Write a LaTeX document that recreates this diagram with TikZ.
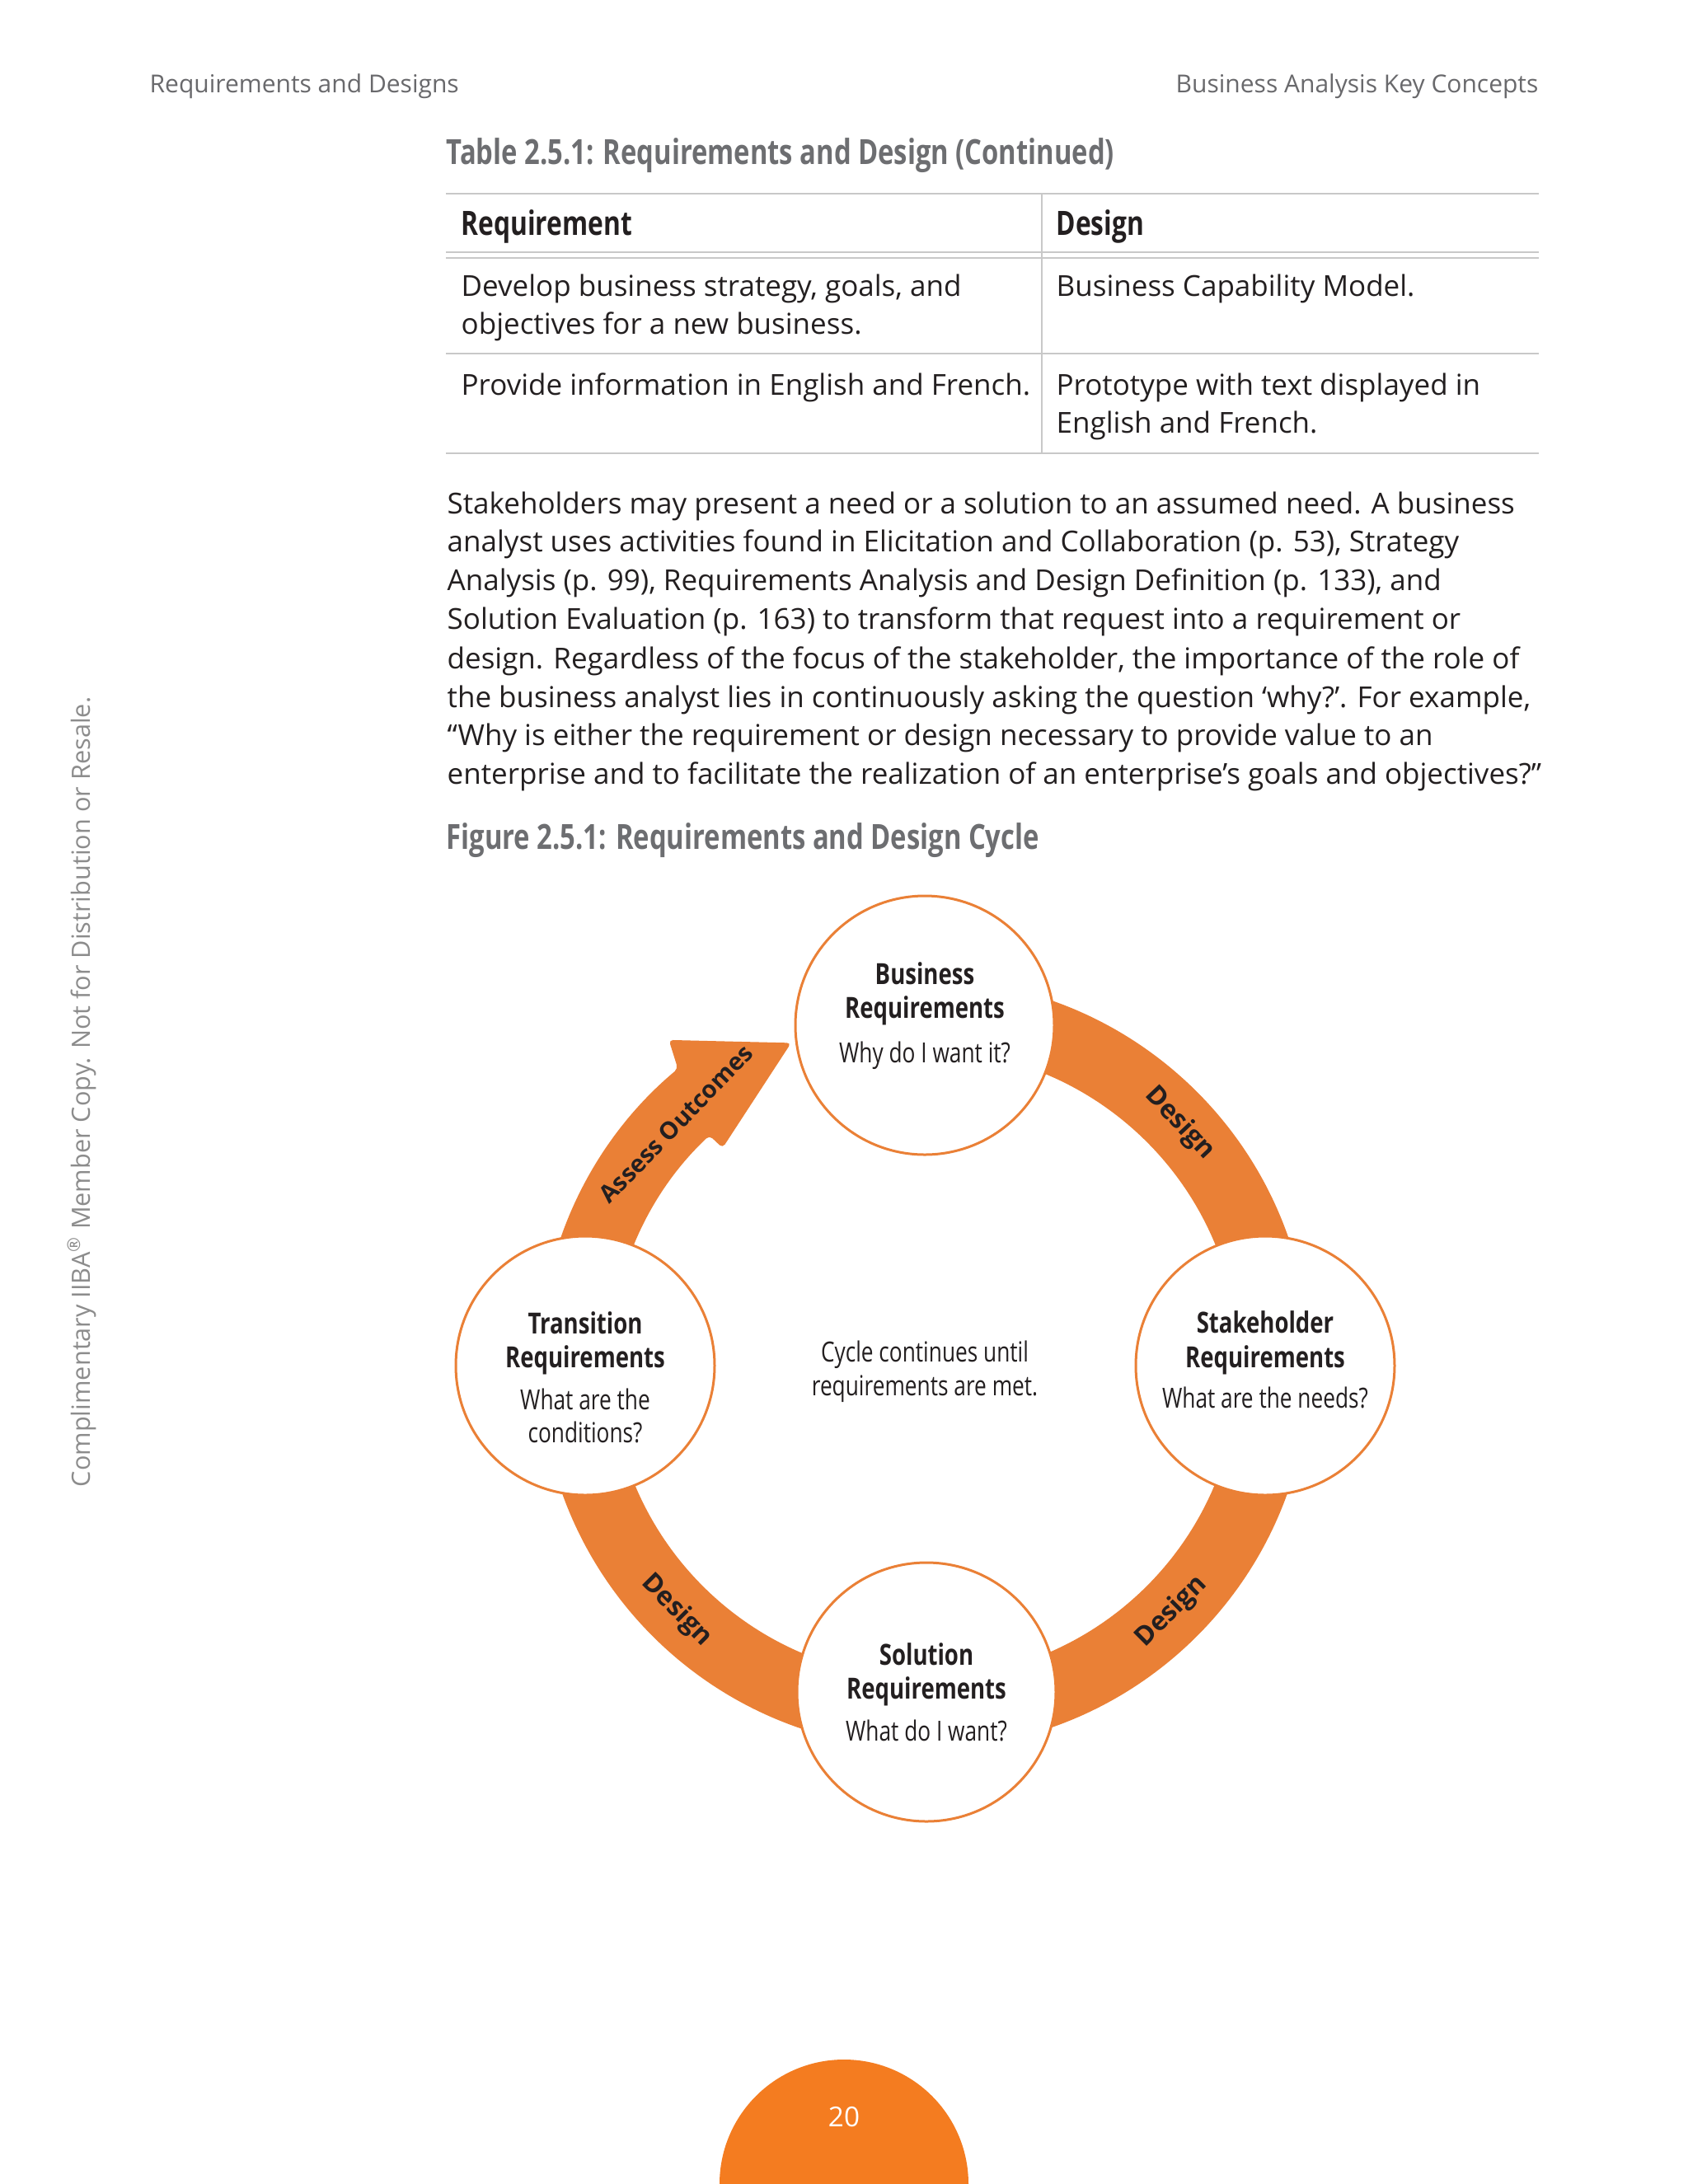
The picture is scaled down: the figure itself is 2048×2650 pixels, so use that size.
\documentclass[tikz,border=0pt]{standalone}
\usepackage{fontspec}
\setmainfont{Open Sans}
\newfontfamily\condf[FakeStretch=0.78]{Open Sans}
\usetikzlibrary{calc}
\definecolor{ringor}{RGB}{234,128,54}
\definecolor{pageor}{RGB}{244,124,32}
\definecolor{hdrgray}{RGB}{105,105,108}
\definecolor{ttlgray}{RGB}{109,110,113}
\definecolor{rulegray}{RGB}{200,200,200}
\definecolor{txt}{RGB}{35,31,32}
\definecolor{wmgray}{RGB}{140,140,140}
\tikzset{
  bodytxt/.style={anchor=mid west, inner sep=0pt, text=txt, font=\fontsize{10.5}{12}\selectfont},
  hdrtxt/.style={inner sep=0pt, text=hdrgray, font=\fontsize{9}{11}\selectfont},
  ttltxt/.style={anchor=mid west, inner sep=0pt, text=ttlgray, font=\condf\bfseries\fontsize{12.6}{14}\selectfont},
  headtxt/.style={anchor=mid west, inner sep=0pt, text=txt, font=\condf\bfseries\fontsize{12.2}{14}\selectfont},
  rulel/.style={draw=rulegray, line width=0.8pt},
  bubble/.style={circle, draw=ringor, line width=0.9pt, fill=white, minimum size=94.2pt, inner sep=0pt},
  bubtitle/.style={anchor=mid, inner sep=0pt, text=txt, font=\condf\bfseries\fontsize{10.6}{13}\selectfont},
  bubsub/.style={anchor=mid, inner sep=0pt, text=txt, font=\condf\fontsize{10.1}{13}\selectfont},
  bandlbl/.style={anchor=mid, inner sep=0pt, text=txt, font=\bfseries\fontsize{9.6}{12}\selectfont},
  band/.style={fill=ringor, draw=none}
}
\begin{document}
\begin{tikzpicture}[x=0.3pt,y=0.3pt]
\useasboundingbox (0,0) rectangle (2048,-2650);
\fill[white] (0,0) rectangle (2048,-2650);

% running headers
\node[hdrtxt, anchor=mid west] (hl) at (181,-104) {Requirements and Designs};
\node[hdrtxt, anchor=mid east] (hr) at (1867,-104) {Business Analysis Key Concepts};

% watermark
\node[hdrtxt, text=wmgray, rotate=90, anchor=mid, font=\fontsize{9.2}{11}\selectfont] (wm) at (101,-1325) {Complimentary IIBA\textsuperscript{®} Member Copy. Not for Distribution or Resale.};

% table
\node[ttltxt] (tt) at (541,-191) {Table 2.5.1: Requirements and Design (Continued)};
\coordinate (tl) at (541,-235);
\coordinate (tr) at (1867,-235);
\draw[rulel] (tl) -- (tr);
\draw[rulel] (541,-306) -- (1867,-306);
\draw[rulel] (541,-313) -- (1867,-313);
\draw[rulel] (541,-429) -- (1867,-429);
\draw[rulel] (541,-550) -- (1867,-550);
\draw[rulel, line width=0.6pt] (1264,-235) -- (1264,-550);
\node[headtxt] (h1) at (559,-277) {Requirement};
\node[headtxt] (h2) at (1281,-277) {Design};
\node[bodytxt] (c11a) at (559,-351) {Develop business strategy, goals, and};
\node[bodytxt] (c11b) at (559,-397) {objectives for a new business.};
\node[bodytxt] (c12) at (1281,-351) {Business Capability Model.};
\node[bodytxt] (c21) at (559,-471) {Provide information in English and French.};
\node[bodytxt] (c22a) at (1281,-471) {Prototype with text displayed in};
\node[bodytxt] (c22b) at (1281,-517) {English and French.};

% paragraph
\node[bodytxt] (p1) at (542,-615) {Stakeholders may present a need or a solution to an assumed need. A business};
\node[bodytxt] (p2) at (542,-661) {analyst uses activities found in Elicitation and Collaboration (p. 53), Strategy};
\node[bodytxt] (p3) at (542,-708) {Analysis (p. 99), Requirements Analysis and Design Definition (p. 133), and};
\node[bodytxt] (p4) at (542,-755) {Solution Evaluation (p. 163) to transform that request into a requirement or};
\node[bodytxt] (p5) at (542,-803) {design. Regardless of the focus of the stakeholder, the importance of the role of};
\node[bodytxt] (p6) at (542,-850) {the business analyst lies in continuously asking the question ‘why?’. For example,};
\node[bodytxt] (p7) at (542,-896) {“Why is either the requirement or design necessary to provide value to an};
\node[bodytxt] (p8) at (542,-943) {enterprise and to facilitate the realization of an enterprise’s goals and objectives?”};

\node[ttltxt] (ft) at (541,-1022) {Figure 2.5.1: Requirements and Design Cycle};

% ring bands
\begin{scope}[shift={(1122,-1655)}]
  \fill[band] (90:467) arc[start angle=90, end angle=0, radius=467] -- (0:381) arc[start angle=0, end angle=90, radius=381] -- cycle;
  \fill[band] (0:467) arc[start angle=0, end angle=-90, radius=467] -- (-90:381) arc[start angle=-90, end angle=0, radius=381] -- cycle;
  \fill[band] (-90:467) arc[start angle=-90, end angle=-180, radius=467] -- (-180:381) arc[start angle=-180, end angle=-90, radius=381] -- cycle;
  \fill[band, rounded corners=1.5pt] (180:467) arc[start angle=180, end angle=129.9, radius=467] -- (128.3:501) -- (112.6:422) -- (133.1:359) -- (133.3:381) arc[start angle=133.3, end angle=180, radius=381] -- cycle;
  \node[bandlbl, rotate=-46.7] (d1) at (43.3:426) {Design};
  \node[bandlbl, rotate=44.9] (d2) at (-45.1:424) {Design};
  \node[bandlbl, rotate=-45.2] (d3) at (-135.2:424) {Design};
  \node[bandlbl, rotate=46, font=\bfseries\fontsize{8.8}{12}\selectfont] (ao) at (136:418) {Assess Outcomes};
\end{scope}

% bubbles
\node[bubble] (biz) at (1122,-1244) {};
\node[bubble] (stk) at (1535,-1657) {};
\node[bubble] (trn) at (710,-1657) {};
\node[bubble] (sol) at (1124,-2053) {};

\node[bubtitle] (bizt1) at (1122,-1186) {Business};
\node[bubtitle] (bizt2) at (1122,-1227) {Requirements};
\node[bubsub] (bizs) at (1122,-1281) {Why do I want it?};

\node[bubtitle] (stkt1) at (1535,-1609) {Stakeholder};
\node[bubtitle] (stkt2) at (1535,-1651) {Requirements};
\node[bubsub] (stks) at (1535,-1700) {What are the needs?};

\node[bubtitle] (trnt1) at (710,-1610) {Transition};
\node[bubtitle] (trnt2) at (710,-1651) {Requirements};
\node[bubsub] (trns1) at (710,-1702) {What are the};
\node[bubsub] (trns2) at (710,-1742) {conditions?};

\node[bubtitle] (solt1) at (1124,-2012) {Solution};
\node[bubtitle] (solt2) at (1124,-2053) {Requirements};
\node[bubsub] (sols) at (1124,-2104) {What do I want?};

\node[bubsub] (cyc1) at (1122,-1644) {Cycle continues until};
\node[bubsub] (cyc2) at (1122,-1685) {requirements are met.};

% page number
\fill[pageor] (1024,-2650) ++(151,0) arc[start angle=0, end angle=180, radius=151] -- cycle;
\node[hdrtxt, text=white, anchor=mid, font=\fontsize{10}{12}\selectfont] (pg) at (1024,-2572) {20};
\end{tikzpicture}
\end{document}
